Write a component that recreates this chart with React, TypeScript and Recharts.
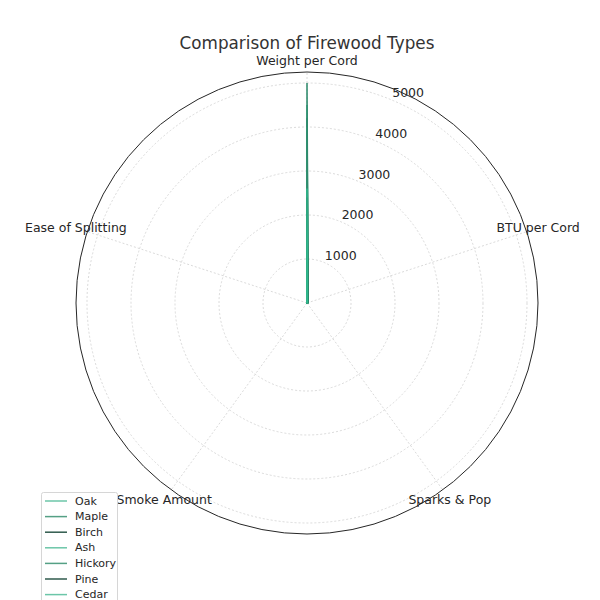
import { RadarChart, Radar, PolarGrid, PolarAngleAxis, PolarRadiusAxis, Legend } from 'recharts'

const categories = ['Weight per Cord', 'BTU per Cord', 'Sparks & Pop', 'Smoke Amount', 'Ease of Splitting']

// values per wood, same order as categories (BTU in millions)
const oak = [4500, 24, 1, 1, 3]
const maple = [4200, 22, 1, 1, 3]
const birch = [3900, 20, 2, 2, 4]
const ash = [4000, 20, 1, 1, 4]
const hickory = [5000, 27, 1, 1, 2]
const pine = [2400, 15, 4, 4, 5]
const cedar = [2600, 13, 5, 3, 5]

const woods = ['Oak', 'Maple', 'Birch', 'Ash', 'Hickory', 'Pine', 'Cedar']
const colors = ['#6cc6a8', '#55a085', '#2f5a4c', '#6cc6a8', '#55a085', '#2f5a4c', '#6cc6a8']
const lineColors = ['#3fb890', '#2e8b6c', '#1f4f40', '#3fb890', '#2e8b6c', '#1f4f40', '#2fb88c']
const radiusTicks = [1000, 2000, 3000, 4000, 5000]
const radiusMax = 5250

const series = [oak, maple, birch, ash, hickory, pine, cedar]

const chartData = categories.map((axis, i) => {
  const row: Record<string, string | number> = { axis }
  woods.forEach((w, j) => {
    row[w] = series[j][i]
  })
  return row
})

const FONT = '"DejaVu Sans", sans-serif'

function AngleTick(props: any) {
  const { x, y, payload } = props
  return (
    <text x={x} y={y} textAnchor="middle" dominantBaseline="central" fontSize={12.5} fill="#262626" fontFamily={FONT}>
      {payload.value}
    </text>
  )
}

function RadiusTick(props: any) {
  const { x, y, payload } = props
  return (
    <text x={x + 1} y={y - 7} textAnchor="start" dominantBaseline="central" fontSize={12.5} fill="#262626" fontFamily={FONT}>
      {payload.value}
    </text>
  )
}

// legend drawn as svg so the sample lines render evenly
function LegendBox() {
  const rowH = 15.6
  return (
    <svg width={78} height={118} style={{ display: 'block', overflow: 'visible' }}>
      <rect x={0.5} y={0.5} width={76} height={116} rx={2} fill="#fff" fillOpacity={0.8} stroke="#d6d6d6" />
      {woods.map((w, i) => {
        const y = 9 + i * rowH
        return (
          <g key={w}>
            <line x1={4} x2={26} y1={y} y2={y} stroke={colors[i]} strokeWidth={1.5} />
            <text x={34} y={y} dominantBaseline="central" fontSize={11} fill="#262626" fontFamily={FONT}>
              {w}
            </text>
          </g>
        )
      })}
    </svg>
  )
}

export default function App() {
  return (
    <div style={{ position: 'absolute', left: 0, top: 0, width: 600, height: 600, overflow: 'hidden', background: '#fff' }}>
      <div
        style={{
          position: 'absolute',
          left: 0,
          top: 32,
          width: 614,
          textAlign: 'center',
          fontFamily: FONT,
          fontSize: 16.8,
          color: '#333',
          lineHeight: '22px',
        }}
      >
        Comparison of Firewood Types
      </div>
      <RadarChart width={600} height={600} data={chartData} cx={307} cy={303} outerRadius={231} margin={{ top: 0, right: 0, bottom: 0, left: 0 }}>
        <PolarGrid gridType="circle" stroke="#d0d0d0" strokeDasharray="2 2" strokeWidth={0.8} />
        <PolarGrid gridType="circle" polarRadius={[231]} polarAngles={[]} stroke="#262626" strokeWidth={1} />
        <PolarAngleAxis dataKey="axis" tick={<AngleTick />} tickLine={false} tickSize={12} axisLine={false} />
        <PolarRadiusAxis angle={67.5} domain={[0, radiusMax]} ticks={radiusTicks} tick={<RadiusTick />} axisLine={false} tickLine={false} />
        {woods.map((w, i) => (
          <Radar
            key={w}
            name={w}
            dataKey={w}
            stroke={lineColors[i]}
            strokeWidth={1.5}
            fill="none"
            fillOpacity={0}
            dot={false}
            isAnimationActive={false}
          />
        ))}
        <Legend
          layout="vertical"
          content={() => <LegendBox />}
          wrapperStyle={{ position: 'absolute', left: 41, top: 492, width: 'auto' }}
        />
      </RadarChart>
    </div>
  )
}
